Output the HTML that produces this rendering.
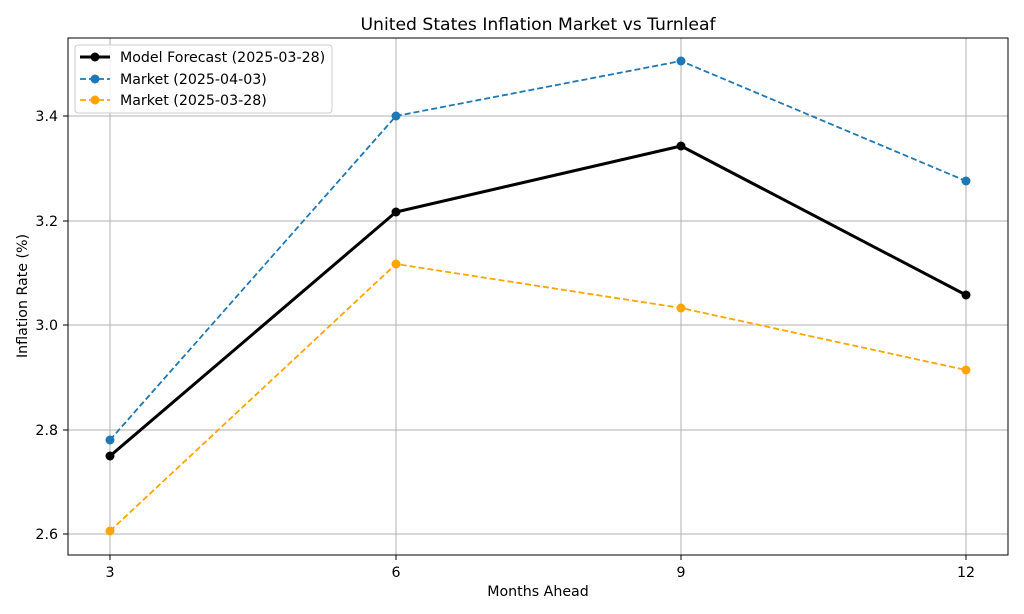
<!DOCTYPE html>
<html><head><meta charset="utf-8"><style>
html,body{margin:0;padding:0;background:#fff;}
svg{display:block;font-family:"DejaVu Sans","Liberation Sans",sans-serif;}
</style></head><body>
<svg width="1024" height="614" viewBox="0 0 1024 614" xmlns="http://www.w3.org/2000/svg">
<rect width="1024" height="614" fill="#fff"/>
<text x="538" y="30" font-size="17.2" text-anchor="middle" fill="#000">United States Inflation Market vs Turnleaf</text>
<g stroke="#b0b0b0" stroke-width="1">
<line x1="110" y1="38" x2="110" y2="555"/>
<line x1="396" y1="38" x2="396" y2="555"/>
<line x1="681" y1="38" x2="681" y2="555"/>
<line x1="966" y1="38" x2="966" y2="555"/>
<line x1="68" y1="534" x2="1008" y2="534"/>
<line x1="68" y1="430" x2="1008" y2="430"/>
<line x1="68" y1="325" x2="1008" y2="325"/>
<line x1="68" y1="221" x2="1008" y2="221"/>
<line x1="68" y1="116" x2="1008" y2="116"/>
</g>
<g stroke="#000" stroke-width="1">
<line x1="110" y1="555" x2="110" y2="560"/><line x1="396" y1="555" x2="396" y2="560"/>
<line x1="681" y1="555" x2="681" y2="560"/><line x1="966" y1="555" x2="966" y2="560"/>
<line x1="63" y1="534" x2="68" y2="534"/><line x1="63" y1="430" x2="68" y2="430"/>
<line x1="63" y1="325" x2="68" y2="325"/><line x1="63" y1="221" x2="68" y2="221"/>
<line x1="63" y1="116" x2="68" y2="116"/>
</g>
<g font-size="14.2" fill="#000" text-anchor="middle">
<text x="110" y="577">3</text><text x="396" y="577">6</text><text x="681" y="577">9</text><text x="966" y="577">12</text>
<text x="538" y="596">Months Ahead</text>
</g>
<g font-size="14.2" fill="#000" text-anchor="end">
<text x="58" y="539">2.6</text><text x="58" y="435">2.8</text><text x="58" y="330">3.0</text>
<text x="58" y="226">3.2</text><text x="58" y="121">3.4</text>
</g>
<text transform="translate(27,296) rotate(-90)" font-size="14.2" text-anchor="middle">Inflation Rate (%)</text>
<polyline points="110,440 396,116 681,61 966,181" fill="none" stroke="#1f77b4" stroke-width="1.8" stroke-dasharray="6,3"/>
<polyline points="110,531 396,264 681,308 966,370" fill="none" stroke="#ffa500" stroke-width="1.8" stroke-dasharray="6,3"/>
<polyline points="110,456 396,212 681,146 966,295" fill="none" stroke="#000" stroke-width="3"/>
<g fill="#1f77b4"><circle cx="110" cy="440" r="4.5"/><circle cx="396" cy="116" r="4.5"/><circle cx="681" cy="61" r="4.5"/><circle cx="966" cy="181" r="4.5"/></g>
<g fill="#ffa500"><circle cx="110" cy="531" r="4.5"/><circle cx="396" cy="264" r="4.5"/><circle cx="681" cy="308" r="4.5"/><circle cx="966" cy="370" r="4.5"/></g>
<g fill="#000"><circle cx="110" cy="456" r="4.5"/><circle cx="396" cy="212" r="4.5"/><circle cx="681" cy="146" r="4.5"/><circle cx="966" cy="295" r="4.5"/></g>
<rect x="68" y="38" width="940" height="517" fill="none" stroke="#000" stroke-width="1"/>
<rect x="75" y="45" width="257" height="68" rx="3" fill="#fff" fill-opacity="0.8" stroke="#ccc"/>
<line x1="80" y1="57" x2="110" y2="57" stroke="#000" stroke-width="3"/><circle cx="95" cy="57" r="4.5"/>
<line x1="80" y1="79" x2="110" y2="79" stroke="#1f77b4" stroke-width="1.8" stroke-dasharray="6,3"/><circle cx="95" cy="79" r="4.5" fill="#1f77b4"/>
<line x1="80" y1="100" x2="110" y2="100" stroke="#ffa500" stroke-width="1.8" stroke-dasharray="6,3"/><circle cx="95" cy="100" r="4.5" fill="#ffa500"/>
<g font-size="14.2" fill="#000">
<text x="120" y="62">Model Forecast (2025-03-28)</text>
<text x="120" y="84">Market (2025-04-03)</text>
<text x="120" y="105">Market (2025-03-28)</text>
</g>
</svg>
</body></html>
